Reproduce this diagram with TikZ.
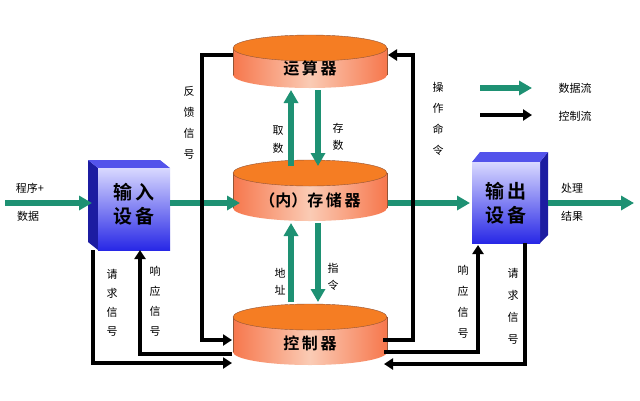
\documentclass[tikz,border=0pt]{standalone}
\usepackage{fontspec}
\setmainfont{Noto Sans CJK SC}
\newfontfamily\cjkb{Noto Sans CJK SC}[BoldFont={Noto Sans CJK SC Bold}]
\usetikzlibrary{arrows.meta}
\definecolor{gflow}{RGB}{30,145,115}
\definecolor{ortop}{RGB}{245,125,35}
\definecolor{orside}{RGB}{245,140,90}
\definecolor{blfront}{RGB}{40,40,230}
\tikzset{
  data/.style={draw=gflow,line width=5.5pt,-{Triangle[length=13pt,width=14pt,fill=gflow]}},
  ctrl/.style={draw=black,line width=3.6pt,-{Triangle[length=9pt,width=11pt]}},
  lbl/.style={font=\fontsize{11}{11}\selectfont,inner sep=0pt},
  unit/.style={font=\cjkb\bfseries\fontsize{16}{16}\selectfont,inner sep=0pt},
  dev/.style={font=\cjkb\bfseries\fontsize{19}{24}\selectfont,align=center,inner sep=0pt},
}
\newcommand{\mycyl}[3]{%
  \shade[left color=orside!85!red,right color=orside!85!red,middle color=orside!45!white] (#1-77,#2) rectangle (#1+77,#3);
  \shade[left color=orside!85!red,right color=orside!85!red,middle color=orside!45!white] (#1,#3) ellipse (77pt and 13pt);
  \draw[orside!60!black,line width=0.4pt] (#1-77,#2) -- (#1-77,#3) (#1+77,#2) -- (#1+77,#3);
  \fill[ortop] (#1,#2) ellipse (77pt and 13pt);
  \draw[orside!60!black,line width=0.4pt] (#1,#2) ellipse (77pt and 13pt);
}
\begin{document}
\begin{tikzpicture}[x=1pt,y=-1pt]
\useasboundingbox (0,0) rectangle (640,400);
\fill[white] (0,0) rectangle (640,400);
% cylinders
\mycyl{310}{48}{75}
\mycyl{310}{173}{208}
\mycyl{310}{317}{352}
\node[unit] (alu) at (310,68) {运\,算\,器};
\node[unit] (mem) at (310,200) {（内）存\,储\,器};
\node[unit] (cu) at (310,343) {控\,制\,器};
% input device
\fill[blfront!70!black] (88,160) -- (98,168) -- (98,250) -- (88,242) -- cycle;
\fill[blfront!80!white] (88,160) -- (160,160) -- (170,168) -- (98,168) -- cycle;
\shade[top color=blue!15!white,bottom color=blfront] (98,168) rectangle (170,250);
\node[dev] (in) at (134,204) {输\,入\\设\,备};
% output device
\fill[blfront!70!black] (540,162) -- (548,152) -- (548,235) -- (540,243) -- cycle;
\fill[blfront!80!white] (472,162) -- (480,152) -- (548,152) -- (540,162) -- cycle;
\shade[top color=blue!15!white,bottom color=blfront] (472,162) rectangle (540,243);
\node[dev] (out) at (506,203) {输\,出\\设\,备};
% coordinates
\coordinate (pin) at (5,203);
\coordinate (inL) at (92,203);
\coordinate (inR) at (170,203);
\coordinate (memL) at (240,203);
\coordinate (memR) at (388,203);
\coordinate (outL) at (470,203);
\coordinate (outR) at (548,203);
\coordinate (res) at (634,203);
% data flows
\draw[data] (pin) -- (inL);
\draw[data] (inR) -- (memL);
\draw[data] (memR) -- (outL);
\draw[data] (outR) -- (res);
\draw[data] (291,166) -- (291,90);
\draw[data] (318,90) -- (318,166);
\draw[data] (291,302) -- (291,223);
\draw[data] (318,223) -- (318,302);
% control flows
\draw[ctrl] (233,55) -- (202,55) -- (202,340) -- (232,340);
\draw[ctrl] (383,340) -- (413,340) -- (413,55) -- (388,55);
\draw[ctrl] (93,250) -- (93,363) -- (232,363);
\draw[ctrl] (232,354) -- (140,354) -- (140,250);
\draw[ctrl] (384,352) -- (478,352) -- (478,245);
\draw[ctrl] (525,243) -- (525,364) -- (384,364);
% legend
\draw[data] (480,88) -- (532,88);
\draw[ctrl] (480,115) -- (532,115);
\node[lbl] (l1) at (575,88) {数据流};
\node[lbl] (l2) at (575,116) {控制流};
% labels
\node[lbl] at (30,188) {程序+};
\node[lbl] at (28,216) {数据};
\node[lbl] at (572,188) {处理};
\node[lbl] at (572,216) {结果};
\node[lbl,align=center] at (189,123) {反\\[10pt]馈\\[10pt]信\\[10pt]号};
\node[lbl,align=center] at (438,119) {操\\[10pt]作\\[10pt]命\\[10pt]令};
\node[lbl,align=center] at (278,140) {取\\[7pt]数};
\node[lbl,align=center] at (338,137) {存\\[6pt]数};
\node[lbl,align=center] at (280,282) {地\\[6pt]址};
\node[lbl,align=center] at (333,277) {指\\[6pt]令};
\node[lbl,align=center] at (112,303) {请\\[8pt]求\\[8pt]信\\[8pt]号};
\node[lbl,align=center] at (155,301) {响\\[9pt]应\\[9pt]信\\[9pt]号};
\node[lbl,align=center] at (463,302) {响\\[10pt]应\\[10pt]信\\[10pt]号};
\node[lbl,align=center] at (513,306) {请\\[11pt]求\\[11pt]信\\[11pt]号};
\end{tikzpicture}
\end{document}
